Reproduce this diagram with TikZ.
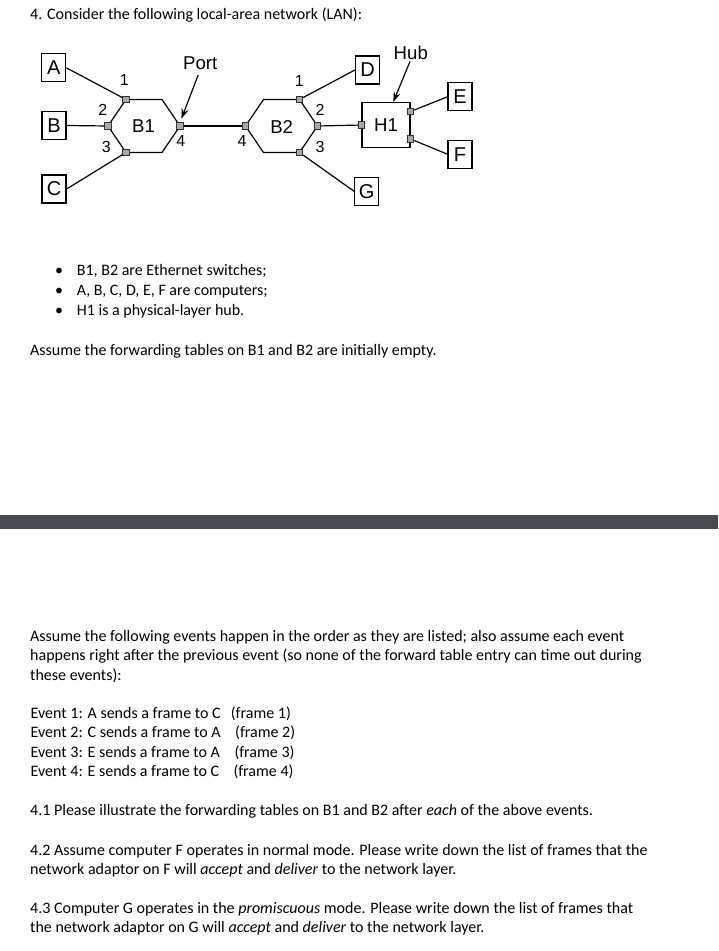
\documentclass[tikz,border=0pt]{standalone}
\usepackage{fontspec}
\setmainfont{Carlito}
\newfontfamily\arialfont{Liberation Sans}
\usetikzlibrary{calc, positioning, arrows.meta}
\definecolor{portgray}{RGB}{168,168,168}
\definecolor{bargray}{RGB}{72,75,79}
\tikzset{
  body/.style={anchor=base west, inner sep=0pt, font=\fontsize{16}{19.6}\selectfont},
  comp/.style={draw, line width=1.2pt, minimum width=24pt, minimum height=28pt,
    inner sep=0pt, font=\arialfont\fontsize{20}{20}\selectfont},
  port/.style={draw=black!80, fill=portgray, line width=0.8pt, minimum size=6.5pt, inner sep=0pt},
  link/.style={line width=1.2pt},
  plabel/.style={inner sep=0pt, font=\arialfont\fontsize{16}{16}\selectfont},
  blabel/.style={inner sep=0pt, font=\arialfont\fontsize{18.6}{18.6}\selectfont},
  callout/.style={-{Stealth[length=10pt,width=7pt]}, line width=1.2pt}
}

\begin{document}
\begin{tikzpicture}[x=1pt, y=-1pt]
  \useasboundingbox (0,0) rectangle (718,951);

  \node[body] (head) at (30,19.5) {4. Consider the following local-area network (LAN):};

  % computers
  \node[comp] (A) at (53.7,67.8) {A};
  \node[comp] (B) at (54,125.5) {B};
  \node[comp] (C) at (54,189) {C};
  \node[comp] (D) at (367.5,70) {D};
  \node[comp] (E) at (460,96.8) {E};
  \node[comp] (F) at (460,154.2) {F};
  \node[comp] (G) at (366.7,191.3) {G};

  % switch B1
  \coordinate (b1v1) at (126,99.5);
  \coordinate (b1v2) at (162,99.5);
  \coordinate (b1v3) at (180,126);
  \coordinate (b1v4) at (162,152.5);
  \coordinate (b1v5) at (126,152.5);
  \coordinate (b1v6) at (108,126);
  \draw[link] (b1v1) -- (b1v2) -- (b1v3) -- (b1v4) -- (b1v5) -- (b1v6) -- cycle;
  \node[blabel] (b1name) at (143.5,126.5) {B1};

  % switch B2
  \coordinate (b2v1) at (263.5,99.5);
  \coordinate (b2v2) at (299.5,99.5);
  \coordinate (b2v3) at (317.5,126);
  \coordinate (b2v4) at (299.5,152.5);
  \coordinate (b2v5) at (263.5,152.5);
  \coordinate (b2v6) at (245.5,126);
  \draw[link] (b2v1) -- (b2v2) -- (b2v3) -- (b2v4) -- (b2v5) -- (b2v6) -- cycle;
  \node[blabel] (b2name) at (281.7,126.7) {B2};

  % hub
  \node[draw, line width=1.2pt, minimum width=48pt, minimum height=45pt, inner sep=0pt,
    font=\arialfont\fontsize{18.6}{18.6}\selectfont] (H1) at (386,125) {H1};

  % ports
  \node[port] (b1p1) at (b1v1) {};
  \node[port] (b1p2) at (b1v6) {};
  \node[port] (b1p3) at (b1v5) {};
  \node[port] (b1p4) at (b1v3) {};
  \node[port] (b2p1) at (b2v2) {};
  \node[port] (b2p2) at (b2v3) {};
  \node[port] (b2p3) at (b2v4) {};
  \node[port] (b2p4) at (b2v6) {};
  \node[port] (h1w) at (H1.west) {};
  \node[port] (h1ne) at ($(H1.east)+(0,-13.5)$) {};
  \node[port] (h1se) at ($(H1.east)+(0,14)$) {};

  % links
  \draw[link] (A.east) -- (b1p1);
  \draw[link] (B.east) -- (b1p2);
  \draw[link] (C.east) -- (b1p3);
  \draw[link] (b1p4) -- (b2p4);
  \draw[link] (b2p1) -- (D.west);
  \draw[link] (b2p2) -- (h1w);
  \draw[link] (b2p3) -- (G.west);
  \draw[link] (h1ne) -- (E.west);
  \draw[link] (h1se) -- (F.west);

  % port numbers
  \node[plabel] (n11) at (124.2,79.7) {1};
  \node[plabel] (n12) at (102.8,109.7) {2};
  \node[plabel] (n13) at (106.2,147.2) {3};
  \node[plabel] (n14) at (180.8,140.7) {4};
  \node[plabel] (n21) at (299.3,81) {1};
  \node[plabel] (n22) at (320,109.7) {2};
  \node[plabel] (n23) at (320,147.2) {3};
  \node[plabel] (n24) at (242,140.8) {4};

  % callouts
  \node[blabel] (portlbl) at (200.3,62.8) {Port};
  \draw[callout, shorten <=6pt, shorten >=4pt] (portlbl.south) -- (b1p4.north);
  \node[blabel] (hublbl) at (410.8,52.5) {Hub};
  \coordinate (hubtip) at ($(H1.north)+(7.3,0)$);
  \draw[callout, shorten <=2pt] (hublbl.south) -- (hubtip);

  % notes
  \node[body] (dot1) at (55,275) {•};
  \node[body] (bul1) at (76.7,275) {B1, B2 are Ethernet switches;};
  \node[body] (dot2) at (55,295.5) {•};
  \node[body] (bul2) at (76.7,295.5) {A, B, C, D, E, F are computers;};
  \node[body] (dot3) at (55,315.7) {•};
  \node[body] (bul3) at (76.7,315.7) {H1 is a physical-layer hub.};
  \node[body] (init) at (30,355) {Assume the forwarding tables on B1 and B2 are initially empty.};

  \fill[bargray] (0,515) rectangle (718,529);

  \node[body] (ord1) at (30,641) {Assume the following events happen in the order as they are listed; also assume each event};
  \node[body] (ord2) at (30,660.7) {happens right after the previous event (so none of the forward table entry can time out during};
  \node[body] (ord3) at (30,680) {these events):};

  \node[body] (ev1) at (30.5,718.3) {Event 1: A sends a frame to C};
  \node[body] (fr1) at (230.7,718.3) {(frame 1)};
  \node[body] (ev2) at (30.5,737.7) {Event 2: C sends a frame to A};
  \node[body] (fr2) at (235,737.7) {(frame 2)};
  \node[body] (ev3) at (30.5,757.3) {Event 3: E sends a frame to A};
  \node[body] (fr3) at (234.3,757.3) {(frame 3)};
  \node[body] (ev4) at (30.5,776.7) {Event 4: E sends a frame to C};
  \node[body] (fr4) at (233.3,776.7) {(frame 4)};

  \node[body] (q41) at (30,815) {4.1 Please illustrate the forwarding tables on B1 and B2 after \emph{each} of the above events.};
  \node[body] (q42a) at (30,855) {4.2 Assume computer F operates in normal mode. Please write down the list of frames that the};
  \node[body] (q42b) at (30,874.3) {network adaptor on F will \emph{accept} and \emph{deliver} to the network layer.};
  \node[body] (q43a) at (30,913.3) {4.3 Computer G operates in the \emph{promiscuous} mode. Please write down the list of frames that};
  \node[body] (q43b) at (30,932.3) {the network adaptor on G will \emph{accept} and \emph{deliver} to the network layer.};
\end{tikzpicture}
\end{document}
